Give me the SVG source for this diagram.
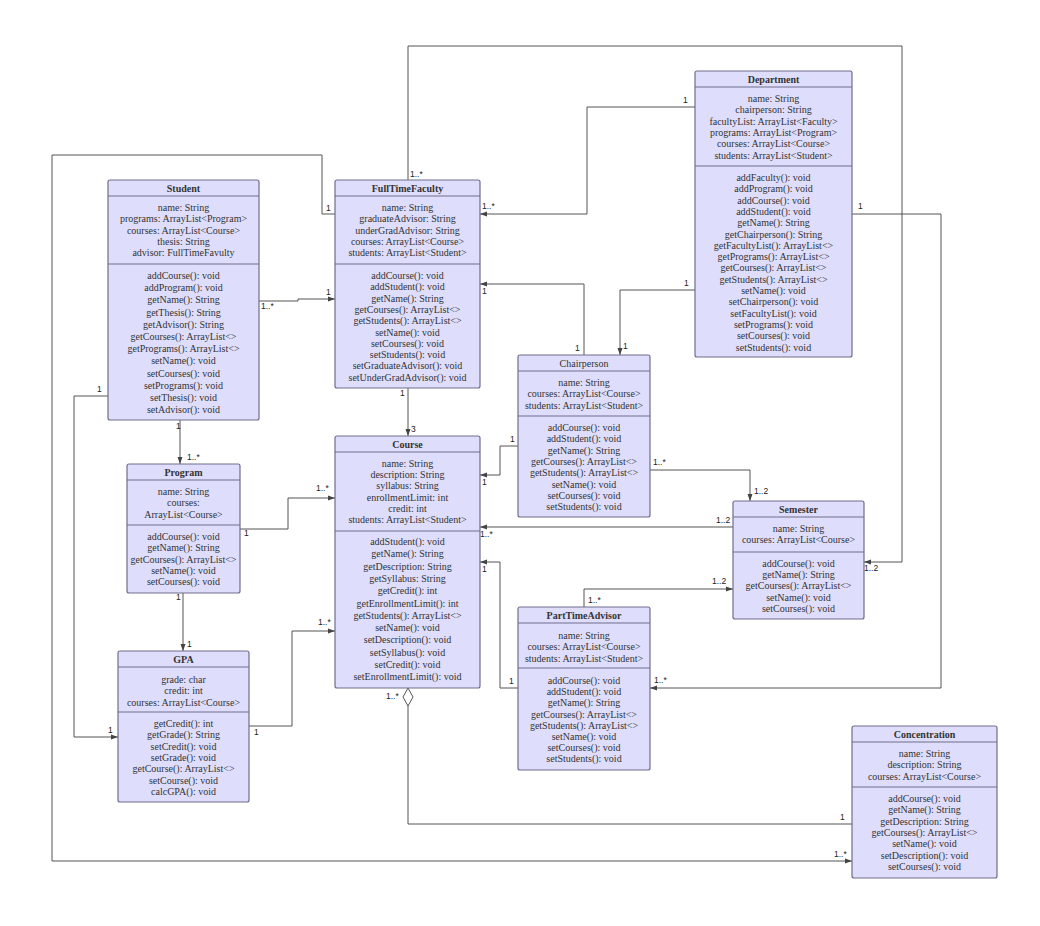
<svg xmlns="http://www.w3.org/2000/svg" width="1040" height="926" viewBox="0 0 1040 926">
<style>
.box{fill:#dedefc;stroke:#6e6e8c;stroke-width:1.2}
.div{stroke:#6e6e8c;stroke-width:1.2}
text{font-family:"Liberation Serif","DejaVu Serif",serif;font-size:10px;fill:#333;text-anchor:middle}
.h{font-weight:bold}
.c line,.c polyline{fill:none;stroke:#555;stroke-width:1}
.l{font-family:"Liberation Sans",Arial,sans-serif;font-size:8.5px;text-anchor:start;fill:#222}
</style>
<defs>
<marker id="a" markerWidth="8" markerHeight="8" refX="7" refY="4" orient="auto" markerUnits="userSpaceOnUse"><path d="M0,1.5 L7,4 L0,6.5 z" fill="#444"/></marker>
</defs>
<rect width="1040" height="926" fill="#fff"/>

<g class="c" id="connectors">
<polyline points="408,180 408,46 902,46 902,562 864,562" marker-end="url(#a)"/>
<polyline points="695,107 587,107 587,214 480,214" marker-end="url(#a)"/>
<polyline points="695,290 620,290 620,355" marker-end="url(#a)"/>
<polyline points="584,355 584,284 480,284" marker-end="url(#a)"/>
<polyline points="259,301 298,301 298,299 335,299" marker-end="url(#a)"/>
<polyline points="335,214 322,214 322,155 52,155 52,861 852,861" marker-end="url(#a)"/>
<polyline points="408,388 408,436" marker-end="url(#a)"/>
<polyline points="180,420 180,464" marker-end="url(#a)"/>
<polyline points="108,396 74,396 74,737 118,737" marker-end="url(#a)"/>
<polyline points="240,529 288,529 288,498 335,498" marker-end="url(#a)"/>
<polyline points="183,593 183,651" marker-end="url(#a)"/>
<polyline points="249,726 292,726 292,631 335,631" marker-end="url(#a)"/>
<polyline points="518,446 500,446 500,475 480,475" marker-end="url(#a)"/>
<polyline points="650,470 750,470 750,501" marker-end="url(#a)"/>
<polyline points="733,527 480,527" marker-end="url(#a)"/>
<polyline points="584,607 584,589 733,589" marker-end="url(#a)"/>
<polyline points="518,688 500,688 500,562 480,562" marker-end="url(#a)"/>
<polyline points="852,214 941,214 941,688 650,688" marker-end="url(#a)"/>
<polyline points="852,824 408,824 408,706"/>
<path d="M408,688 L413,697 L408,706 L403,697 z" fill="#fff" stroke="#555"/>
<text class="l" x="410" y="177">1..*</text>
<text class="l" x="864" y="571">1..2</text>
<text class="l" x="683" y="103">1</text>
<text class="l" x="482" y="209">1..*</text>
<text class="l" x="684" y="286">1</text>
<text class="l" x="623" y="349">1</text>
<text class="l" x="575" y="351">1</text>
<text class="l" x="482" y="294">1</text>
<text class="l" x="261" y="309">1..*</text>
<text class="l" x="326" y="295">1</text>
<text class="l" x="326" y="211">1</text>
<text class="l" x="834" y="857">1..*</text>
<text class="l" x="400" y="396">1</text>
<text class="l" x="411" y="432">3</text>
<text class="l" x="176" y="429">1</text>
<text class="l" x="187" y="460">1..*</text>
<text class="l" x="97" y="392">1</text>
<text class="l" x="108" y="733">1</text>
<text class="l" x="244" y="536">1</text>
<text class="l" x="316" y="491">1..*</text>
<text class="l" x="176" y="600">1</text>
<text class="l" x="187" y="647">1</text>
<text class="l" x="254" y="735">1</text>
<text class="l" x="318" y="625">1..*</text>
<text class="l" x="510" y="442">1</text>
<text class="l" x="482" y="485">1</text>
<text class="l" x="653" y="465">1..*</text>
<text class="l" x="754" y="494">1..2</text>
<text class="l" x="716" y="523">1..2</text>
<text class="l" x="480" y="537">1..*</text>
<text class="l" x="588" y="603">1..*</text>
<text class="l" x="712" y="584">1..2</text>
<text class="l" x="509" y="684">1</text>
<text class="l" x="482" y="572">1</text>
<text class="l" x="858" y="209">1</text>
<text class="l" x="654" y="683">1..*</text>
<text class="l" x="840" y="820">1</text>
<text class="l" x="386" y="699">1..*</text>
</g>

<g id="Student">
<rect class="box" x="108" y="180" width="151" height="240" rx="2"/>
<line class="div" x1="108" y1="196" x2="259" y2="196"/><line class="div" x1="108" y1="264" x2="259" y2="264"/>
<text class="h" x="183.5" y="192">Student</text>
<text x="183.5" y="211">name: String</text><text x="183.5" y="222.3">programs: ArrayList&lt;Program&gt;</text><text x="183.5" y="233.6">courses: ArrayList&lt;Course&gt;</text><text x="183.5" y="244.9">thesis: String</text><text x="183.5" y="256.2">advisor: FullTimeFavulty</text>
<text x="183.5" y="279">addCourse(): void</text><text x="183.5" y="291.2">addProgram(): void</text><text x="183.5" y="303.4">getName(): String</text><text x="183.5" y="315.6">getThesis(): String</text><text x="183.5" y="327.8">getAdvisor(): String</text><text x="183.5" y="340">getCourses(): ArrayList&lt;&gt;</text><text x="183.5" y="352.2">getPrograms(): ArrayList&lt;&gt;</text><text x="183.5" y="364.4">setName(): void</text><text x="183.5" y="376.6">setCourses(): void</text><text x="183.5" y="388.8">setPrograms(): void</text><text x="183.5" y="401">setThesis(): void</text><text x="183.5" y="413.2">setAdvisor():  void</text>
</g>

<g id="FullTimeFaculty">
<rect class="box" x="335" y="180" width="145" height="208" rx="2"/>
<line class="div" x1="335" y1="196" x2="480" y2="196"/><line class="div" x1="335" y1="264" x2="480" y2="264"/>
<text class="h" x="407.5" y="192">FullTimeFaculty</text>
<text x="407.5" y="211">name: String</text><text x="407.5" y="222.3">graduateAdvisor: String</text><text x="407.5" y="233.6">underGradAdvisor: String</text><text x="407.5" y="244.9">courses: ArrayList&lt;Course&gt;</text><text x="407.5" y="256.2">students: ArrayList&lt;Student&gt;</text>
<text x="407.5" y="279">addCourse(): void</text><text x="407.5" y="290.3">addStudent(): void</text><text x="407.5" y="301.6">getName(): String</text><text x="407.5" y="312.9">getCourses(): ArrayList&lt;&gt;</text><text x="407.5" y="324.2">getStudents(): ArrayList&lt;&gt;</text><text x="407.5" y="335.5">setName(): void</text><text x="407.5" y="346.8">setCourses(): void</text><text x="407.5" y="358.1">setStudents(): void</text><text x="407.5" y="369.4">setGraduateAdvisor(): void</text><text x="407.5" y="380.7">setUnderGradAdvisor(): void</text>
</g>

<g id="Department">
<rect class="box" x="695" y="71" width="157" height="286" rx="2"/>
<line class="div" x1="695" y1="87" x2="852" y2="87"/><line class="div" x1="695" y1="166" x2="852" y2="166"/>
<text class="h" x="773.5" y="83">Department</text>
<text x="773.5" y="102">name: String</text><text x="773.5" y="113.3">chairperson: String</text><text x="773.5" y="124.6">facultyList: ArrayList&lt;Faculty&gt;</text><text x="773.5" y="135.9">programs: ArrayList&lt;Program&gt;</text><text x="773.5" y="147.2">courses: ArrayList&lt;Course&gt;</text><text x="773.5" y="158.5">students: ArrayList&lt;Student&gt;</text>
<text x="773.5" y="181">addFaculty(): void</text><text x="773.5" y="192.3">addProgram(): void</text><text x="773.5" y="203.6">addCourse(): void</text><text x="773.5" y="214.9">addStudent(): void</text><text x="773.5" y="226.2">getName(): String</text><text x="773.5" y="237.5">getChairperson(): String</text><text x="773.5" y="248.8">getFacultyList(): ArrayList&lt;&gt;</text><text x="773.5" y="260.1">getPrograms(): ArrayList&lt;&gt;</text><text x="773.5" y="271.4">getCourses(): ArrayList&lt;&gt;</text><text x="773.5" y="282.7">getStudents(): ArrayList&lt;&gt;</text><text x="773.5" y="294">setName(): void</text><text x="773.5" y="305.3">setChairperson(): void</text><text x="773.5" y="316.6">setFacultyList(): void</text><text x="773.5" y="327.9">setPrograms(): void</text><text x="773.5" y="339.2">setCourses(): void</text><text x="773.5" y="350.5">setStudents(): void</text>
</g>

<g id="Chairperson">
<rect class="box" x="518" y="355" width="132" height="162" rx="2"/>
<line class="div" x1="518" y1="371" x2="650" y2="371"/><line class="div" x1="518" y1="416" x2="650" y2="416"/>
<text x="584" y="367">Chairperson</text>
<text x="584" y="386">name: String</text><text x="584" y="397.3">courses: ArrayList&lt;Course&gt;</text><text x="584" y="408.6">students: ArrayList&lt;Student&gt;</text>
<text x="584" y="431">addCourse(): void</text><text x="584" y="442.3">addStudent(): void</text><text x="584" y="453.6">getName(): String</text><text x="584" y="464.9">getCourses(): ArrayList&lt;&gt;</text><text x="584" y="476.2">getStudents(): ArrayList&lt;&gt;</text><text x="584" y="487.5">setName(): void</text><text x="584" y="498.8">setCourses(): void</text><text x="584" y="510.1">setStudents(): void</text>
</g>

<g id="Course">
<rect class="box" x="335" y="436" width="145" height="252" rx="2"/>
<line class="div" x1="335" y1="452" x2="480" y2="452"/><line class="div" x1="335" y1="531" x2="480" y2="531"/>
<text class="h" x="407.5" y="448">Course</text>
<text x="407.5" y="467">name: String</text><text x="407.5" y="478.2">description: String</text><text x="407.5" y="489.4">syllabus: String</text><text x="407.5" y="500.6">enrollmentLimit: int</text><text x="407.5" y="511.8">credit: int</text><text x="407.5" y="523">students: ArrayList&lt;Student&gt;</text>
<text x="407.5" y="545">addStudent(): void</text><text x="407.5" y="557.3">getName(): String</text><text x="407.5" y="569.6">getDescription: String</text><text x="407.5" y="581.9">getSyllabus: String</text><text x="407.5" y="594.2">getCredit(): int</text><text x="407.5" y="606.5">getEnrollmentLimit(): int</text><text x="407.5" y="618.8">getStudents(): ArrayList&lt;&gt;</text><text x="407.5" y="631.1">setName(): void</text><text x="407.5" y="643.4">setDescription(): void</text><text x="407.5" y="655.7">setSyllabus(): void</text><text x="407.5" y="668">setCredit(): void</text><text x="407.5" y="680.3">setEnrollmentLimit(): void</text><text x="407.5" y="692.6" display="none"></text>
</g>

<g id="Program">
<rect class="box" x="127" y="464" width="113" height="129" rx="2"/>
<line class="div" x1="127" y1="480" x2="240" y2="480"/><line class="div" x1="127" y1="525" x2="240" y2="525"/>
<text class="h" x="183.5" y="476">Program</text>
<text x="183.5" y="495">name: String</text><text x="183.5" y="506.3">courses:</text><text x="183.5" y="517.6">ArrayList&lt;Course&gt;</text>
<text x="183.5" y="540">addCourse(): void</text><text x="183.5" y="551.3">getName(): String</text><text x="183.5" y="562.6">getCourses(): ArrayList&lt;&gt;</text><text x="183.5" y="573.9">setName(): void</text><text x="183.5" y="585.2">setCourses(): void</text>
</g>

<g id="GPA">
<rect class="box" x="118" y="651" width="131" height="151" rx="2"/>
<line class="div" x1="118" y1="667" x2="249" y2="667"/><line class="div" x1="118" y1="712" x2="249" y2="712"/>
<text class="h" x="183.5" y="663">GPA</text>
<text x="183.5" y="683">grade: char</text><text x="183.5" y="694.3">credit: int</text><text x="183.5" y="705.6">courses: ArrayList&lt;Course&gt;</text>
<text x="183.5" y="727">getCredit(): int</text><text x="183.5" y="738.3">getGrade(): String</text><text x="183.5" y="749.6">setCredit(): void</text><text x="183.5" y="760.9">setGrade(): void</text><text x="183.5" y="772.2">getCourse(): ArrayList&lt;&gt;</text><text x="183.5" y="783.5">setCourse(): void</text><text x="183.5" y="794.8">calcGPA(): void</text>
</g>

<g id="Semester">
<rect class="box" x="733" y="501" width="131" height="118" rx="2"/>
<line class="div" x1="733" y1="517" x2="864" y2="517"/><line class="div" x1="733" y1="552" x2="864" y2="552"/>
<text class="h" x="798.5" y="513">Semester</text>
<text x="798.5" y="532">name: String</text><text x="798.5" y="543.3">courses: ArrayList&lt;Course&gt;</text>
<text x="798.5" y="567">addCourse(): void</text><text x="798.5" y="578.2">getName(): String</text><text x="798.5" y="589.4">getCourses(): ArrayList&lt;&gt;</text><text x="798.5" y="600.6">setName(): void</text><text x="798.5" y="611.8">setCourses(): void</text>
</g>

<g id="PartTimeAdvisor">
<rect class="box" x="518" y="607" width="132" height="163" rx="2"/>
<line class="div" x1="518" y1="623" x2="650" y2="623"/><line class="div" x1="518" y1="668" x2="650" y2="668"/>
<text class="h" x="584" y="619">PartTimeAdvisor</text>
<text x="584" y="639">name: String</text><text x="584" y="650.3">courses: ArrayList&lt;Course&gt;</text><text x="584" y="661.6">students: ArrayList&lt;Student&gt;</text>
<text x="584" y="684">addCourse(): void</text><text x="584" y="695.2">addStudent(): void</text><text x="584" y="706.4">getName(): String</text><text x="584" y="717.6">getCourses(): ArrayList&lt;&gt;</text><text x="584" y="728.8">getStudents(): ArrayList&lt;&gt;</text><text x="584" y="740">setName(): void</text><text x="584" y="751.2">setCourses(): void</text><text x="584" y="762.4">setStudents(): void</text>
</g>

<g id="Concentration">
<rect class="box" x="852" y="726" width="145" height="152" rx="2"/>
<line class="div" x1="852" y1="742" x2="997" y2="742"/><line class="div" x1="852" y1="787" x2="997" y2="787"/>
<text class="h" x="924.5" y="738">Concentration</text>
<text x="924.5" y="757">name: String</text><text x="924.5" y="768.3">description: String</text><text x="924.5" y="779.6">courses: ArrayList&lt;Course&gt;</text>
<text x="924.5" y="802">addCourse(): void</text><text x="924.5" y="813.3">getName(): String</text><text x="924.5" y="824.6">getDescription: String</text><text x="924.5" y="835.9">getCourses(): ArrayList&lt;&gt;</text><text x="924.5" y="847.2">setName(): void</text><text x="924.5" y="858.5">setDescription(): void</text><text x="924.5" y="869.8">setCourses(): void</text>
</g>
</svg>
